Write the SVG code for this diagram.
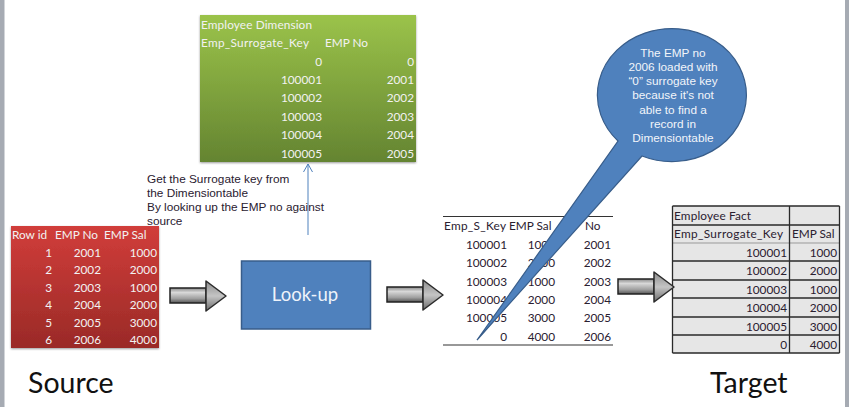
<svg xmlns="http://www.w3.org/2000/svg" width="849" height="407" viewBox="0 0 849 407">
<style>
text{font-family:"Lato","Open Sans","Liberation Sans",sans-serif;font-size:11.8px}
.w{fill:#f2f2f2}.k{fill:#2a2030}.r{text-anchor:end}
.a{font-family:"Liberation Sans",Arial,sans-serif;font-size:11.8px}
.big{font-size:28.5px;fill:#111}
.g{stroke:#2a2a2a;stroke-width:1.3;fill:none}
</style>
<defs>
<linearGradient id="gr" x1="0" y1="0" x2="0" y2="1"><stop offset="0" stop-color="#9bc34a"/><stop offset="1" stop-color="#648431"/></linearGradient>
<linearGradient id="rd" x1="0" y1="0" x2="0" y2="1"><stop offset="0" stop-color="#d13d3a"/><stop offset="1" stop-color="#9a2a27"/></linearGradient>
<linearGradient id="ar" x1="0" y1="0" x2="0" y2="1"><stop offset="0" stop-color="#8a8a8a"/><stop offset=".3" stop-color="#d8d8d8"/><stop offset=".7" stop-color="#a0a0a0"/><stop offset="1" stop-color="#555"/></linearGradient>
<linearGradient id="ah" x1="0" y1="0" x2="0" y2="1"><stop offset="0" stop-color="#8c8c8c"/><stop offset=".5" stop-color="#c4c4c4"/><stop offset="1" stop-color="#6a6a6a"/></linearGradient>
<filter id="sh" x="-5%" y="-5%" width="110%" height="110%"><feDropShadow dx="0" dy="1" stdDeviation="1.2" flood-color="#000" flood-opacity=".4"/></filter>
<g id="fat">
<rect x="0" y="7" width="36" height="15" fill="url(#ar)" stroke="#222" stroke-width="1.500"/>
<path d="M36 0L56 15 36 30Z" fill="url(#ah)" stroke="#2a2a2a" stroke-width="1.500" stroke-linejoin="round"/>
</g>
<marker id="op" markerWidth="12" markerHeight="12" refX="9" refY="6" orient="auto" markerUnits="userSpaceOnUse"><path d="M1 1.5L9 6 1 10.5" fill="none" stroke="#4f81bd" stroke-width="1"/></marker>
</defs>
<rect width="849" height="407" fill="#fff"/>
<rect x="0" y="0" width="4.500" height="407" fill="#a6abb3"/>
<rect x="845" y="0" width="4" height="407" fill="#a6abb3"/>

<g id="employee-dimension">
<rect x="200" y="15" width="216" height="147" fill="url(#gr)" filter="url(#sh)"/>
<text class="w" x="201" y="29" textLength="111" lengthAdjust="spacing">Employee Dimension</text>
<text class="w" x="201" y="47" textLength="108" lengthAdjust="spacing">Emp_Surrogate_Key</text><text class="w" x="325" y="47">EMP No</text>
<text class="w r" x="322" y="66">0</text><text class="w r" x="414" y="66">0</text>
<text class="w r" x="322" y="84">100001</text><text class="w r" x="414" y="84">2001</text>
<text class="w r" x="322" y="102">100002</text><text class="w r" x="414" y="102">2002</text>
<text class="w r" x="322" y="121">100003</text><text class="w r" x="414" y="121">2003</text>
<text class="w r" x="322" y="139">100004</text><text class="w r" x="414" y="139">2004</text>
<text class="w r" x="322" y="158">100005</text><text class="w r" x="414" y="158">2005</text>
</g>

<g id="source-table">
<rect x="11" y="226" width="148" height="122" fill="url(#rd)" filter="url(#sh)"/>
<text class="w" x="12" y="239">Row id</text><text class="w" x="55" y="239">EMP No</text><text class="w" x="104" y="239">EMP Sal</text>
<text class="w r" x="52" y="257">1</text><text class="w r" x="101" y="257">2001</text><text class="w r" x="157" y="257">1000</text>
<text class="w r" x="52" y="274">2</text><text class="w r" x="101" y="274">2002</text><text class="w r" x="157" y="274">2000</text>
<text class="w r" x="52" y="292">3</text><text class="w r" x="101" y="292">2003</text><text class="w r" x="157" y="292">1000</text>
<text class="w r" x="52" y="309">4</text><text class="w r" x="101" y="309">2004</text><text class="w r" x="157" y="309">2000</text>
<text class="w r" x="52" y="327">5</text><text class="w r" x="101" y="327">2005</text><text class="w r" x="157" y="327">3000</text>
<text class="w r" x="52" y="344">6</text><text class="w r" x="101" y="344">2006</text><text class="w r" x="157" y="344">4000</text>
</g>

<g id="look-up">
<rect x="241.500" y="261" width="129" height="68" fill="#4f81bd" stroke="#385d8a" stroke-width="1.500"/>
<text x="305" y="301" text-anchor="middle" style="font-size:18.500px" fill="#eef3fa">Look-up</text>
</g>

<g id="lookup-note">
<text class="a k" x="147" y="183">Get the Surrogate key from</text>
<text class="a k" x="147" y="197">the Dimensiontable</text>
<text class="a k" x="147" y="211" textLength="177" lengthAdjust="spacing">By looking up the EMP no against</text>
<text class="a k" x="147" y="225">source</text>
</g>

<g id="staging-table">
<path d="M443 216.500H613M443 345H613" stroke="#333" stroke-width="1.200" fill="none"/>
<text class="k" x="444" y="230" textLength="62" lengthAdjust="spacing">Emp_S_Key</text><text class="k" x="509" y="230">EMP Sal</text><text class="k" x="585" y="230">No</text>
<text class="k r" x="507" y="249">100001</text><text class="k r" x="555" y="249">1000</text><text class="k r" x="611" y="249">2001</text>
<text class="k r" x="507" y="267">100002</text><text class="k r" x="555" y="267">2000</text><text class="k r" x="611" y="267">2002</text>
<text class="k r" x="507" y="286">100003</text><text class="k r" x="555" y="286">1000</text><text class="k r" x="611" y="286">2003</text>
<text class="k r" x="507" y="304">100004</text><text class="k r" x="555" y="304">2000</text><text class="k r" x="611" y="304">2004</text>
<text class="k r" x="507" y="322">100005</text><text class="k r" x="555" y="322">3000</text><text class="k r" x="611" y="322">2005</text>
<text class="k r" x="507" y="341">0</text><text class="k r" x="555" y="341">4000</text><text class="k r" x="611" y="341">2006</text>
</g>

<g id="employee-fact">
<rect x="672.500" y="206" width="167" height="147" fill="#e6e6e6"/>
<path d="M672.500 243H839.500" stroke="#999" stroke-width="1"/>
<path class="g" d="M672.500 206V353M789.500 206V353M839.500 206V353M672.500 206H839.500M672.500 225H839.500M672.500 261H839.500M672.500 280H839.500M672.500 298H839.500M672.500 317H839.500M672.500 335H839.500M672.500 353H839.500"/>
<text class="k" x="674" y="220" textLength="77" lengthAdjust="spacing">Employee Fact</text>
<text class="k" x="674" y="238" textLength="109" lengthAdjust="spacing">Emp_Surrogate_Key</text><text class="k" x="792" y="238">EMP Sal</text>
<text class="k r" x="787" y="257">100001</text><text class="k r" x="837" y="257">1000</text>
<text class="k r" x="787" y="275">100002</text><text class="k r" x="837" y="275">2000</text>
<text class="k r" x="787" y="294">100003</text><text class="k r" x="837" y="294">1000</text>
<text class="k r" x="787" y="312">100004</text><text class="k r" x="837" y="312">2000</text>
<text class="k r" x="787" y="331">100005</text><text class="k r" x="837" y="331">3000</text>
<text class="k r" x="787" y="349">0</text><text class="k r" x="837" y="349">4000</text>
</g>

<g id="connectors">
<use href="#fat" x="170" y="281"/>
<use href="#fat" x="387" y="280"/>
<use href="#fat" x="618" y="272"/>
<path d="M308 235V164" fill="none" stroke="#4f81bd" stroke-width="1" marker-end="url(#op)"/>
</g>

<g id="callout">
<path d="M477 340L618 141A74.500 66.500 0 1 1 642 156Z" fill="#4f81bd" stroke="#385d8a" stroke-width="1.200"/>
<text class="a" fill="#f2f5fa" text-anchor="middle" x="673" y="57">The EMP no</text>
<text class="a" fill="#f2f5fa" text-anchor="middle" x="673" y="71">2006 loaded with</text>
<text class="a" fill="#f2f5fa" text-anchor="middle" x="673" y="85">“0” surrogate key</text>
<text class="a" fill="#f2f5fa" text-anchor="middle" x="673" y="99">because it's not</text>
<text class="a" fill="#f2f5fa" text-anchor="middle" x="673" y="114">able to find a</text>
<text class="a" fill="#f2f5fa" text-anchor="middle" x="673" y="128">record in</text>
<text class="a" fill="#f2f5fa" text-anchor="middle" x="673" y="142">Dimensiontable</text>
</g>

<g id="labels">
<text class="big" x="28" y="393">Source</text>
<text class="big" x="710" y="393">Target</text>
</g>
</svg>
